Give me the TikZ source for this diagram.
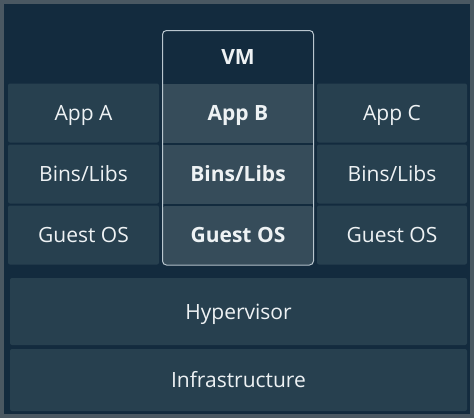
\documentclass[tikz,border=0pt]{standalone}
\usepackage{fontspec}
\setmainfont{Open Sans}
\definecolor{edge}{HTML}{4A5862}
\definecolor{navy}{HTML}{132B3E}
\definecolor{cell}{HTML}{27404F}
\definecolor{vmcell}{HTML}{364C5A}
\definecolor{txt}{HTML}{EEF2F4}
\definecolor{vmline}{HTML}{B9C6CE}
\tikzset{
  x=1pt, y=-1pt,
  cellbox/.style={fill=cell, rounded corners=2pt, draw=none, text=txt, font=\fontsize{21}{24}\selectfont, text height=15pt, text depth=0pt},
  vmbox/.style={fill=vmcell, draw=none, text=txt, font=\fontsize{21}{24}\selectfont\bfseries, text height=15pt, text depth=0pt},
}
\begin{document}
\begin{tikzpicture}
\fill[edge] (0,0) rectangle (474,418);
\fill[navy] (4,4) rectangle (470,414);
% side cells
\node[cellbox, minimum width=151pt, minimum height=59pt] (appa) at (83.5,113) {App A};
\node[cellbox, minimum width=151pt, minimum height=59pt] (binsa) at (83.5,174) {Bins/Libs};
\node[cellbox, minimum width=151pt, minimum height=59pt] (osa) at (83.5,235) {Guest OS};
\node[cellbox, minimum width=150pt, minimum height=59pt] (appc) at (392,113) {App C};
\node[cellbox, minimum width=150pt, minimum height=59pt] (binsc) at (392,174) {Bins/Libs};
\node[cellbox, minimum width=150pt, minimum height=59pt] (osc) at (392,235) {Guest OS};
% VM column
\node[vmbox, minimum width=151pt, minimum height=59pt] (appb) at (238,113) {App B};
\node[vmbox, minimum width=151pt, minimum height=59pt] (binsb) at (238,174) {Bins/Libs};
\node[vmbox, minimum width=151pt, minimum height=59pt, rounded corners=4pt] (osb) at (238,235) {Guest OS};
\fill[navy] (163,143) rectangle (313,144.5);
\fill[navy] (163,204) rectangle (313,205.5);
\node[text=txt, font=\fontsize{21}{24}\selectfont\bfseries, text height=15pt, text depth=0pt] (vm) at (238,57) {VM};
\draw[vmline, line width=1pt, rounded corners=4pt] (162.5,30.5) rectangle (313.5,265);
% base layers
\node[cellbox, minimum width=457pt, minimum height=67pt] (hyp) at (238.5,311.5) {Hypervisor};
\node[cellbox, minimum width=457pt, minimum height=62pt] (infra) at (238.5,380) {Infrastructure};
\end{tikzpicture}
\end{document}
